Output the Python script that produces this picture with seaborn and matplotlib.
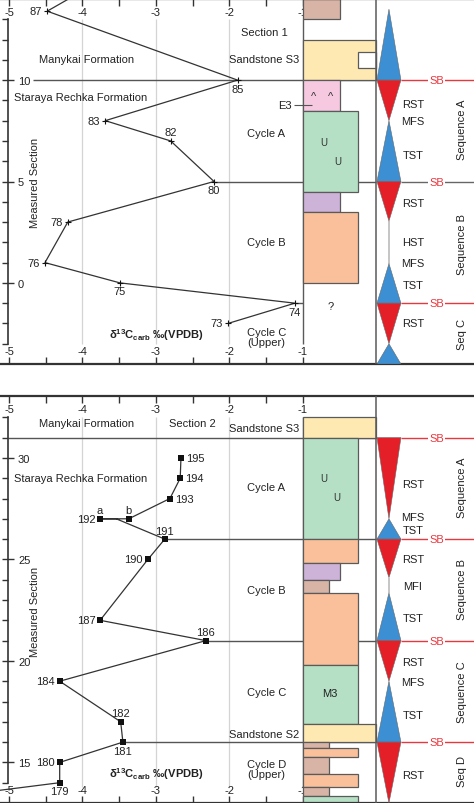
import numpy as np
import pandas as pd
import matplotlib.pyplot as plt
import seaborn as sns

# ---------------- Section 1 (upper panel) ----------------
# d13C samples, top to bottom (88 and lies above the frame)
s1_sample = ['88', '87', '85', '83', '82', '80', '78', '76', '75', '74', '73']
s1_height = [14.6, 13.4, 10.0, 8.0, 7.0, 5.0, 3.0, 1.0, 0.0, -1.0, -2.0]
s1_d13c = [-3.90, -4.48, -1.89, -3.69, -2.80, -2.21, -4.20, -4.51, -3.49, -1.11, -2.02]

# lithology column
s1_bed_top = [14.0, 12.0, 10.0, 8.5, 4.5, 3.5]
s1_bed_base = [13.0, 10.0, 8.5, 4.5, 3.5, 0.0]
s1_bed_grain = [0.5, 1.0, 0.5, 0.75, 0.5, 0.75]
s1_bed_lith = ['mudstone', 'sandstone', 'evaporite', 'limestone', 'marl', 'siltstone']
s1_notch_base, s1_notch_top = 10.6, 11.4

# systems tracts (base on the sequence boundary, apex at MFS)
s1_tract_base = [10, 10, 5, 5, -1, -1, -4]
s1_tract_apex = [13.5, 8.0, 8.0, 3.05, 0.95, -3.0, -3.0]
s1_tract_kind = ['TST', 'RST', 'TST', 'RST', 'TST', 'RST', 'TST']
s1_stem = [3.05, 0.95]

# boundaries
s1_sb_height = [10, 5, -1]
s1_sb_from = [-4.67, -2.21, -1.11]
s1_sb_to = [0.0, 0.0, -1.0]

# ---------------- Section 2 (lower panel) ----------------
s2_sample = ['195', '194', '193', '192b', '192a', '192', '191', '190', '187',
             '186', '184', '182', '181', '180', '179', '178']
s2_height = [30, 29, 28, 27, 27, 27, 26, 25, 22, 21, 19, 17, 16, 15, 14, 13.5]
s2_d13c = [-2.66, -2.67, -2.81, -3.37, -3.76, -3.54, -2.88, -3.11, -3.76,
           -2.32, -4.31, -3.48, -3.45, -4.31, -4.31, -5.40]

s2_bed_top = [32.0, 31.0, 26.0, 24.8, 24.0, 23.35, 19.8, 16.9, 16.0, 15.7, 15.25, 14.45, 13.8, 13.35]
s2_bed_base = [31.0, 26.0, 24.8, 24.0, 23.35, 19.8, 16.9, 16.0, 15.7, 15.25, 14.45, 13.8, 13.35, 12.5]
s2_bed_grain = [1.0, 0.75, 0.75, 0.5, 0.35, 0.75, 0.75, 1.0, 0.35, 0.75, 0.35, 0.75, 0.35, 0.75]
s2_bed_lith = ['sandstone', 'limestone', 'siltstone', 'marl', 'mudstone', 'siltstone', 'limestone',
               'sandstone', 'mudstone', 'siltstone', 'mudstone', 'siltstone', 'mudstone', 'limestone']

s2_tract_base = [31, 26, 26, 21, 21, 16, 16]
s2_tract_apex = [27.0, 27.0, 24.1, 23.35, 19.0, 19.0, 13.0]
s2_tract_kind = ['RST', 'TST', 'RST', 'TST', 'RST', 'TST', 'RST']
s2_stem = [24.1, 23.35]

s2_sb_height = [31, 26, 21, 16]
s2_sb_from = [-5.01, -2.88, -2.32, -3.45]
s2_sb_to = [0.0, 0.0, 0.0, 0.0]

# ---------------- labels ----------------
s1_point_labels = [('87', '87', 'left'), ('85', '85', 'below'), ('83', '83', 'left'),
                   ('82', '82', 'above'), ('80', '80', 'below'), ('78', '78', 'left'),
                   ('76', '76', 'left'), ('75', '75', 'below'), ('74', '74', 'below'),
                   ('73', '73', 'left')]
s2_point_labels = [('195', '195', 'right'), ('194', '194', 'right'), ('193', '193', 'right'),
                   ('192b', 'b', 'above'), ('192a', 'a', 'above'), ('192a', '192', 'left'),
                   ('191', '191', 'above'), ('190', '190', 'left'), ('187', '187', 'left'),
                   ('186', '186', 'above'), ('184', '184', 'left'), ('182', '182', 'above'),
                   ('181', '181', 'below'), ('180', '180', 'left'), ('179', '179', 'below')]
s1_unlabelled = ['88']
s2_unlabelled = ['192', '178']

s1_tract_text = [('RST', 8.8), ('MFS', 7.98), ('TST', 6.3), ('RST', 3.94), ('HST', 2.0),
                 ('MFS', 0.98), ('TST', -0.1), ('RST', -2.0)]
s2_tract_text = [('RST', 28.7), ('MFS', 27.1), ('TST', 26.45), ('RST', 25.0), ('MFI', 23.7),
                 ('TST', 22.1), ('RST', 19.95), ('MFS', 18.97), ('TST', 17.34), ('RST', 14.38)]
s1_seq_text = [('Sequence A', 7.6), ('Sequence B', 1.92), ('Seq C', -2.5)]
s2_seq_text = [('Sequence A', 28.57), ('Sequence B', 23.55), ('Sequence C', 18.5), ('Seq D', 14.58)]

s1_notes = [('Section 1', -1.52, 12.36), ('Manykai Formation', -3.95, 11.03),
            ('Sandstone S3', -1.53, 11.03), ('Staraya Rechka Formation', -4.02, 9.17),
            ('Cycle A', -1.50, 7.39), ('Cycle B', -1.50, 2.02),
            ('Cycle C\n(Upper)', -1.50, -2.66), ('?', -0.62, -1.12)]
s2_notes = [('Manykai Formation', -3.94, 31.72), ('Section 2', -2.51, 31.72),
            ('Sandstone S3', -1.53, 31.48), ('Staraya Rechka Formation', -4.02, 29.0),
            ('Cycle A', -1.50, 28.57), ('Cycle B', -1.50, 23.5), ('Cycle C', -1.50, 18.47),
            ('Sandstone S2', -1.53, 16.4), ('Cycle D\n(Upper)', -1.50, 14.68)]

LITHO = {'mudstone': '#d8b4a6', 'sandstone': '#fee9b3', 'evaporite': '#f6c9e1',
         'limestone': '#b5e0c5', 'marl': '#cdb3d8', 'siltstone': '#f9c09b'}
TRACT = {'TST': '#3b8fd2', 'RST': '#e41f27'}
EDGE = '#5a5a5a'
RED = '#e8383f'
XLIM = (-5.122, 1.327)
TRI_X, TRI_HW = 0.17, 0.163

sns.set_theme(style='white')
plt.rcParams['font.family'] = ['Liberation Sans', 'DejaVu Sans']
plt.rcParams['mathtext.default'] = 'regular'
FS = 8

fig = plt.figure(figsize=(4.74, 8.04), dpi=100)
ax1 = fig.add_axes([0, 1 - 365 / 804, 1, 365 / 804])
ax2 = fig.add_axes([0, 0, 1, 407 / 804])

OFFS = {'left': (-3.5, 0, 'right', 'center'), 'right': (3.5, 0, 'left', 'center'),
        'above': (0, 2.5, 'center', 'bottom'), 'below': (0, -2.5, 'center', 'top')}


def frame(ax, ylim, spine, major, grid):
    ax.set_xlim(*XLIM)
    ax.set_ylim(*ylim)
    ax.grid(False)
    for s in ['top', 'bottom']:
        ax.spines[s].set_linewidth(1.6)
        ax.spines[s].set_color('#333333')
    ax.spines['right'].set_visible(False)
    ax.spines['left'].set_position(('data', -5.014))
    ax.spines['left'].set_bounds(*spine)
    ax.spines['left'].set_color('#333333')
    ax.spines['left'].set_linewidth(1.2)
    xt = np.arange(-5, -0.9, 0.5)
    ax.set_xticks(xt)
    ax.set_xticklabels([str(int(v)) if v == int(v) else '' for v in xt])
    ax.tick_params(axis='x', direction='in', length=5, width=1, color='#333333',
                   top=True, bottom=True, labeltop=True, labelbottom=True,
                   pad=-13, labelsize=FS, labelcolor='#222222')
    ax.set_yticks(major)
    ax.set_yticks(np.arange(spine[0], spine[1] + 1), minor=True)
    ax.tick_params(axis='y', which='major', direction='inout', length=9, width=1,
                   left=True, pad=-11.7, labelsize=FS, color='#333333', labelcolor='#222222')
    ax.tick_params(axis='y', which='minor', direction='out', length=4.5, width=1,
                   left=True, color='#333333')
    plt.setp(ax.get_yticklabels(), ha='left')
    ax.set_xlabel('')
    ax.set_ylabel('')
    ax.vlines([-4, -3, -2], grid[0], grid[1], color='#d4d4d4', lw=0.9, zorder=0)
    ax.vlines(-1, grid[0], grid[1], color=EDGE, lw=1, zorder=1)
    ax.axvline(0, color=EDGE, lw=1.1, zorder=4)


def column(ax, top, base, grain, lith):
    top, base = np.array(top), np.array(base)
    ax.bar(np.full(len(top), -1.0), top - base, width=grain, bottom=base, align='edge',
           color=[LITHO[k] for k in lith], edgecolor=EDGE, linewidth=0.9, zorder=2)


def tracts(ax, base, apex, kind, stem, tlabels, seqs):
    for b, a, k in zip(base, apex, kind):
        ax.fill([TRI_X - TRI_HW, TRI_X + TRI_HW, TRI_X], [b, b, a], color=TRACT[k],
                ec='#666666', lw=0.4, zorder=3)
    ax.vlines(TRI_X, stem[1], stem[0], color='#bbbbbb', lw=1.2, zorder=2)
    for t, y in tlabels:
        ax.text(0.497, y, t, ha='center', va='center', fontsize=FS, color='#222222')
    for t, y in seqs:
        ax.text(1.163, y, t, ha='center', va='center', rotation=90, fontsize=FS, color='#222222')


def bounds(ax, heights, start, stop, colors):
    ax.hlines(heights, start, stop, color='#555555', lw=1, zorder=1)
    for y, c in zip(heights, colors):
        ax.hlines(y, TRI_X + TRI_HW, XLIM[1], color=c, lw=1, zorder=1)
        ax.text(0.823, y, 'SB', ha='center', va='center', fontsize=FS, color=RED, zorder=5,
                bbox=dict(boxstyle='square,pad=0.1', fc='white', ec='none'))


def curve(ax, sample, height, d13c, hidden, labels, marker, size):
    df = pd.DataFrame({'sample': sample, 'height': height, 'd13c': d13c})
    sns.lineplot(data=df, x='d13c', y='height', sort=False, estimator=None,
                 color='#333333', lw=0.9, ax=ax, zorder=5)
    pts = df[~df['sample'].isin(hidden)]
    sns.scatterplot(data=pts, x='d13c', y='height', marker=marker, s=size, color='#111111',
                    linewidth=0.8 if marker == '+' else 0, ax=ax, zorder=6)
    pos = df.set_index('sample')
    for smp, txt, side in labels:
        dx, dy, ha, va = OFFS[side]
        ax.annotate(txt, (pos.loc[smp, 'd13c'], pos.loc[smp, 'height']), xytext=(dx, dy),
                    textcoords='offset points', ha=ha, va=va, fontsize=FS, color='#222222')
    ax.set_xlabel('')
    ax.set_ylabel('')


def notes(ax, items, ylab, xlab):
    for t, x, y in items:
        ax.text(x, y, t, ha='center', va='center', fontsize=FS, color='#222222', linespacing=1.05)
    ax.text(-4.646, ylab, 'Measured Section', rotation=90, ha='center', va='center',
            fontsize=FS, color='#222222')
    ax.text(-3.0, xlab, r'δ$^{13}$C$_{carb}$ ‰(VPDB)', ha='center', va='center',
            fontsize=FS, fontweight='bold', color='#222222')


# ---- upper panel
frame(ax1, (-4.0, 14.0), (-3, 13), [0, 5, 10], (-3, 13))
column(ax1, s1_bed_top, s1_bed_base, s1_bed_grain, s1_bed_lith)
ax1.bar([-0.25], [s1_notch_top - s1_notch_base], width=0.25, bottom=s1_notch_base, align='edge',
        color='white', edgecolor=EDGE, linewidth=0.9, zorder=2)
tracts(ax1, s1_tract_base, s1_tract_apex, s1_tract_kind, s1_stem, s1_tract_text, s1_seq_text)
bounds(ax1, s1_sb_height, s1_sb_from, s1_sb_to, [RED, '#666666', RED])
curve(ax1, s1_sample, s1_height, s1_d13c, s1_unlabelled, s1_point_labels, '+', 14)
notes(ax1, s1_notes, 5.0, -2.51)
ax1.text(-1.15, 8.77, 'E3', ha='right', va='center', fontsize=FS, color='#222222')
ax1.hlines(8.77, -1.12, -0.88, color='#555555', lw=0.8, zorder=3)
for x in [-0.86, -0.62]:
    ax1.text(x, 9.22, '^', ha='center', va='center', fontsize=FS, color='#333333', zorder=3)
ax1.text(-0.714, 6.95, 'U', ha='center', va='center', fontsize=7, color='#333333', zorder=3)
ax1.text(-0.524, 6.0, 'U', ha='center', va='center', fontsize=7, color='#333333', zorder=3)

# ---- lower panel
frame(ax2, (13.0, 33.05), (14, 32), [15, 20, 25, 30], (13.8, 32))
column(ax2, s2_bed_top, s2_bed_base, s2_bed_grain, s2_bed_lith)
tracts(ax2, s2_tract_base, s2_tract_apex, s2_tract_kind, s2_stem, s2_tract_text, s2_seq_text)
bounds(ax2, s2_sb_height, s2_sb_from, s2_sb_to, [RED] * 4)
curve(ax2, s2_sample, s2_height, s2_d13c, s2_unlabelled, s2_point_labels, 's', 16)
notes(ax2, s2_notes, 22.46, 14.48)
ax2.text(-0.714, 29.0, 'U', ha='center', va='center', fontsize=7, color='#333333', zorder=3)
ax2.text(-0.54, 28.08, 'U', ha='center', va='center', fontsize=7, color='#333333', zorder=3)
ax2.text(-0.633, 18.4, 'M3', ha='center', va='center', fontsize=FS, color='#222222', zorder=3)

fig.savefig('out.png', dpi=100, facecolor='white')
